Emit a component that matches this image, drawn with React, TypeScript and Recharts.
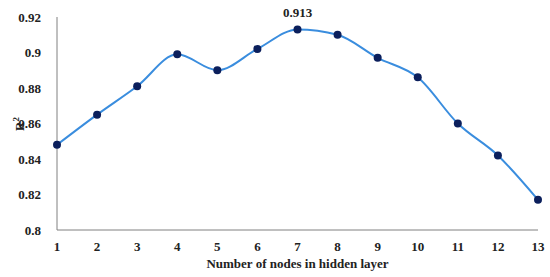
import { Line, LineChart, XAxis, YAxis } from 'recharts';

const nodes = [1, 2, 3, 4, 5, 6, 7, 8, 9, 10, 11, 12, 13];
const r2 = [0.848, 0.865, 0.881, 0.899, 0.89, 0.902, 0.913, 0.91, 0.897, 0.886, 0.86, 0.842, 0.817];
const yTicks = [0.8, 0.82, 0.84, 0.86, 0.88, 0.9, 0.92];
const peakIndex = 6;

const data = nodes.map((n, i) => ({ n, r2: r2[i] }));

const font = 'Liberation Serif';

const PeakLabel = (props: any) => {
  const { x, y, index, value } = props;
  if (index !== peakIndex) return null;
  return (
    <text x={x} y={y - 12} textAnchor="middle" style={{ fontFamily: font, fontWeight: 'bold', fontSize: 13 }} fill="#222">
      {value}
    </text>
  );
};

const R2Label = () => (
  <text transform="translate(24,124) rotate(-90)" textAnchor="middle" style={{ fontFamily: font, fontWeight: 'bold', fontSize: 13 }} fill="#222">
    R<tspan fontSize={9} dy={-5}>2</tspan>
  </text>
);

const tickStyle = { fill: '#222', fontFamily: font, fontWeight: 'bold', fontSize: 13 };

export default function App() {
  return (
    <div style={{ position: 'absolute', left: 0, top: 0, background: '#fff', fontFamily: font }}>
      <LineChart width={550} height={277} data={data} margin={{ top: 17, right: 12, bottom: 17, left: 0 }}>
        <XAxis
          dataKey="n"
          height={30}
          tickLine={false}
          stroke="#808080"
          tick={tickStyle}
          tickMargin={6}
          label={{ value: 'Number of nodes in hidden layer', position: 'insideBottom', offset: -8, ...tickStyle }}
        />
        <YAxis
          width={57}
          domain={[0.8, 0.92]}
          ticks={yTicks}
          tickLine={false}
          stroke="#808080"
          tickFormatter={(v: number) => String(Number(v.toFixed(2)))}
          tick={tickStyle}
          tickMargin={10}
          label={<R2Label />}
        />
        <Line
          type="monotone"
          dataKey="r2"
          stroke="#3A8DDE"
          strokeWidth={2}
          dot={{ r: 4, fill: '#0B1F5C', stroke: '#0B1F5C', strokeWidth: 0 }}
          activeDot={false}
          isAnimationActive={false}
          label={<PeakLabel />}
        />
      </LineChart>
    </div>
  );
}
